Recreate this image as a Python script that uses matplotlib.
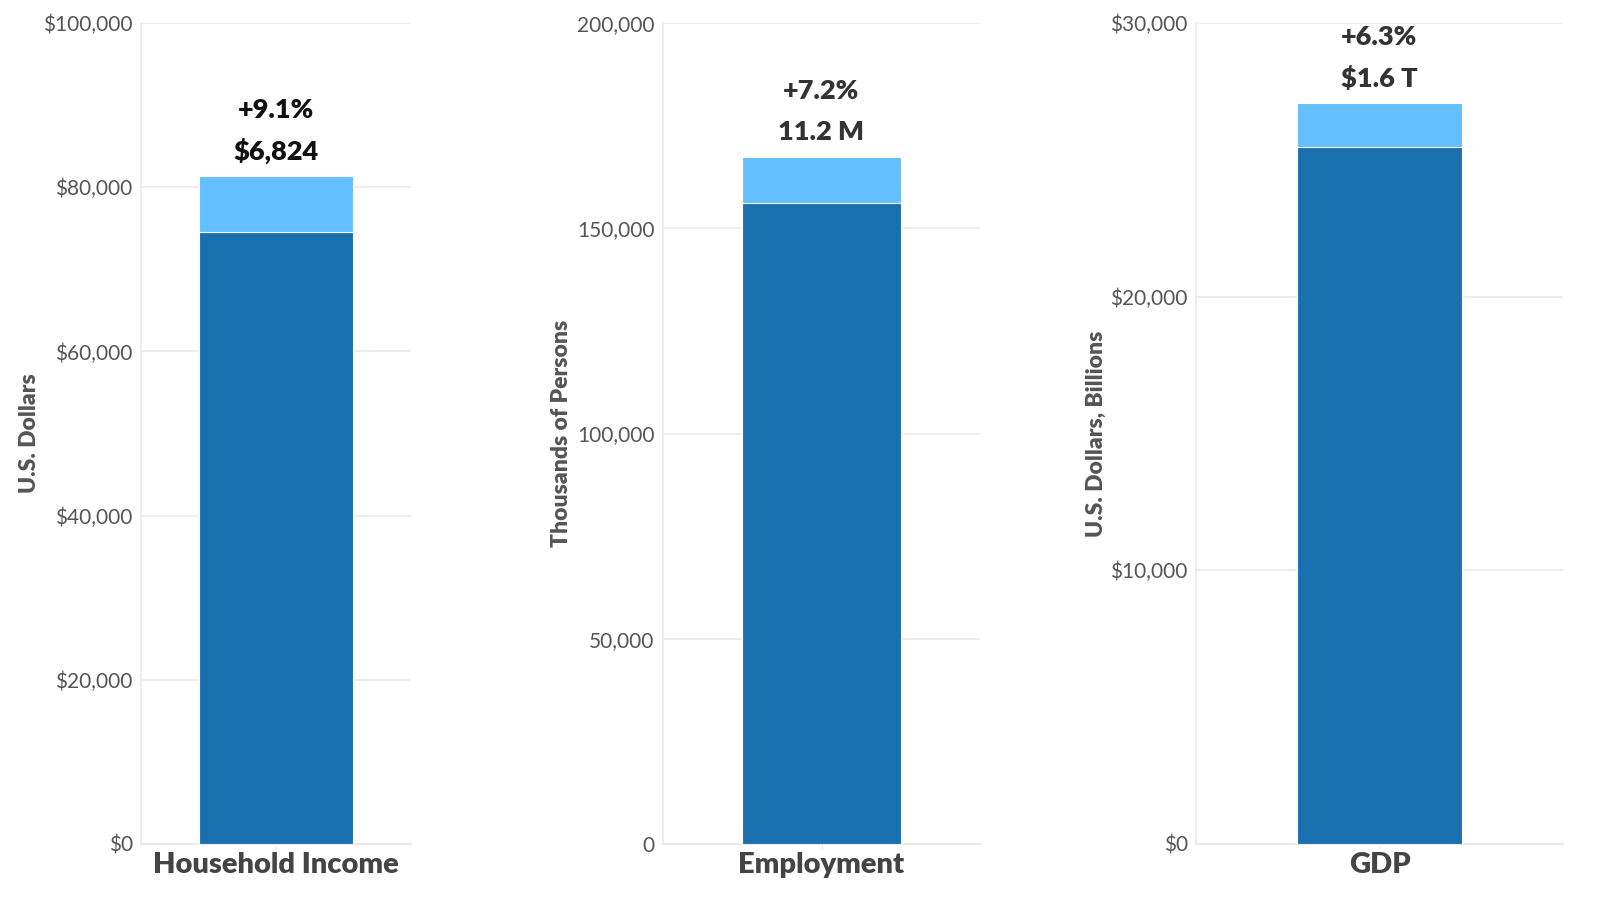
import matplotlib
matplotlib.use("Agg")
import matplotlib.pyplot as plt
from matplotlib.ticker import FuncFormatter

plt.rcParams['font.family'] = ['Lato', 'DejaVu Sans']

categories = ["Household Income", "Employment", "GDP"]
base_values = [74580, 156100, 25460]
increase_values = [6824, 11200, 1600]
pct_labels = ["+9.1%", "+7.2%", "+6.3%"]
amount_labels = ["$6,824", "11.2 M", "$1.6 T"]
y_labels = ["U.S. Dollars", "Thousands of Persons", "U.S. Dollars, Billions"]
y_max = [100000, 200000, 30000]
y_step = [20000, 50000, 10000]
dollar_fmt = [True, False, True]

# layout
axes_rects = [
    [141/1600, 56/900, 270/1600, 821/900],
    [663/1600, 56/900, 317/1600, 821/900],
    [1196/1600, 56/900, 367/1600, 821/900],
]
bar_widths = [0.57, 0.5, 0.45]
ylabel_x = [-0.374, -0.287, -0.244]
label_colors = ["#111111", "#333333", "#333333"]

dark = "#1a70ae"
light = "#64bfff"
grid_c = "#ebebeb"
W = 800

fig = plt.figure(figsize=(16, 9), dpi=100)
for i in range(3):
    ax = fig.add_axes(axes_rects[i])
    ax.bar([0], [base_values[i]], width=bar_widths[i], color=dark,
           edgecolor="white", linewidth=0.8, zorder=3)
    total = base_values[i] + increase_values[i]
    ax.bar([0], [increase_values[i]], bottom=[base_values[i]], width=bar_widths[i],
           color=light, edgecolor="white", linewidth=0.8, zorder=3)
    ax.set_xlim(-0.5, 0.5)
    ax.set_ylim(0, y_max[i])
    ticks = list(range(0, y_max[i] + 1, y_step[i]))
    ax.set_yticks(ticks)
    if dollar_fmt[i]:
        ax.yaxis.set_major_formatter(FuncFormatter(lambda v, p: f"${v:,.0f}"))
    else:
        ax.yaxis.set_major_formatter(FuncFormatter(lambda v, p: f"{v:,.0f}"))
    ax.set_xticks([0])
    ax.set_xticklabels([categories[i]], fontsize=21, fontweight=W, color="#444444")
    ax.tick_params(axis="x", length=4, color=grid_c, pad=2)
    ax.tick_params(axis="y", length=0, labelsize=15, labelcolor="#555555", pad=6)
    ax.grid(axis="y", color=grid_c, linewidth=1.2, zorder=0)
    for s in ["top", "right"]:
        ax.spines[s].set_visible(False)
    ax.spines["left"].set_color(grid_c)
    ax.spines["bottom"].set_color(grid_c)
    ax.spines["left"].set_linewidth(1.2)
    ax.spines["bottom"].set_linewidth(1.5)
    ax.set_ylabel(y_labels[i], fontsize=16.5, fontweight=W, color="#555555")
    ax.yaxis.set_label_coords(ylabel_x[i], 0.5)
    ax.annotate(amount_labels[i], xy=(0, total), xytext=(0, 18), textcoords="offset points",
                ha="center", va="center", fontsize=19.5, fontweight=W, color=label_colors[i])
    ax.annotate(pct_labels[i], xy=(0, total), xytext=(0, 47.5), textcoords="offset points",
                ha="center", va="center", fontsize=19.5, fontweight=W, color=label_colors[i])

fig.savefig("out.png", dpi=100, facecolor="white")
